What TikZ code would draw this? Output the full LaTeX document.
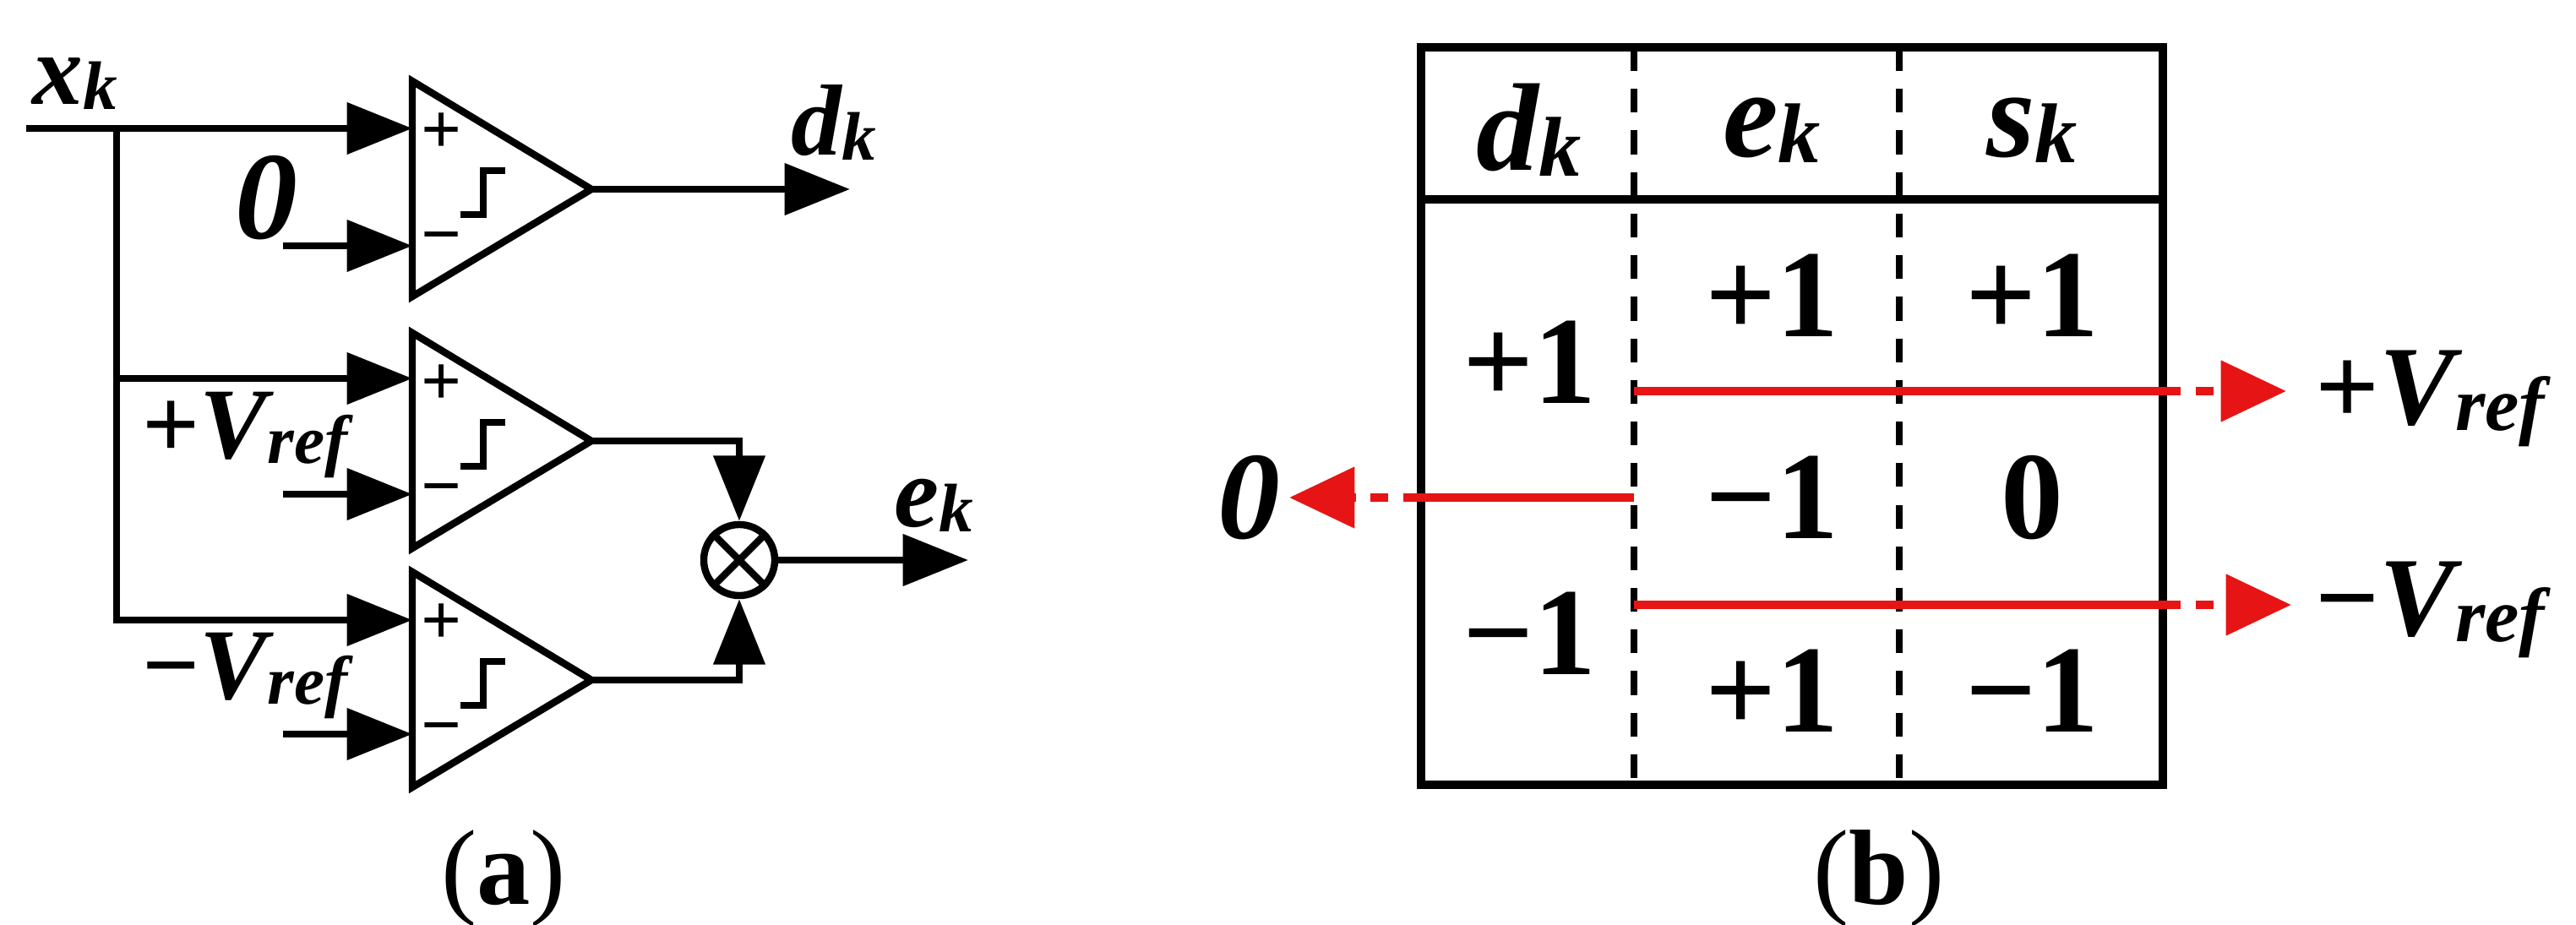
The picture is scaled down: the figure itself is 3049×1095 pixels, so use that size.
\documentclass[tikz,border=0pt]{standalone}
\usepackage{fontspec}
\setmainfont{Liberation Serif}
\usetikzlibrary{arrows.meta}
\newcommand\vv[2]{{\itshape\bfseries #1\raisebox{-0.05em}{\scalebox{0.68}{#2}}}}
\begin{document}
\begin{tikzpicture}[x=0.01cm,y=-0.01cm,
  wire/.style={line width=2.4pt,line cap=rect},
  arr/.style={wire,-{Triangle[length=22pt,width=17pt]}},
  red/.style={line width=3pt,draw={rgb,255:red,230;green,20;blue,20}},
  redarr/.style={line width=3pt,draw={rgb,255:red,230;green,20;blue,20},dash pattern=on 6pt off 5pt,-{Triangle[length=22pt,width=20pt,fill={rgb,255:red,230;green,20;blue,20}]}},
  lbl/.style={font=\fontsize{34}{40}\selectfont\bfseries},
  tbl/.style={font=\fontsize{42}{50}\selectfont\bfseries},
  sgn/.style={font=\fontsize{24}{28}\selectfont\bfseries}]
\useasboundingbox (0,0) rectangle (3049,1095);
% ---------- (a) ----------
\foreach \n/\t in {c1/96,c2/394,c3/677}{
  \pgfmathsetmacro\b{\t+255}\pgfmathsetmacro\m{\t+128}
  \draw[wire,line join=miter] (488,\t) -- (700,\m) coordinate (\n o) -- (488,\b) -- cycle;
  \node[sgn] at (523,\t+62) {+};
  \node[sgn] at (523,\t+194) {−};
  \draw[line width=2.4pt] (545,\m+30) -- (572,\m+30) -- (572,\m-22) -- (598,\m-22);
}
\coordinate (xin) at (35,152);
\coordinate (bus) at (138,152);
\coordinate (bus2) at (138,448);
\coordinate (bus3) at (138,734);
\node[lbl] (xk) at (89,99) {\vv{x}{k}};
\draw[arr] (xin) -- (488,152);
\draw[wire] (bus) -- (bus3);
\draw[arr] (bus2) -- (488,448);
\draw[arr] (bus3) -- (488,734);
\coordinate (m1) at (339,291);
\coordinate (m2) at (339,585);
\coordinate (m3) at (339,869);
\draw[arr] (m1) -- (488,291);
\draw[arr] (m2) -- (488,585);
\draw[arr] (m3) -- (488,869);
\node[font=\fontsize{42}{48}\selectfont\bfseries] (zero) at (315,234) {\itshape 0};
\node[lbl] (pv) at (290,515) {+\vv{V}{ref}};
\node[lbl] (mv) at (290,800) {−\vv{V}{ref}};
\coordinate (dend) at (1006,224);
\draw[arr] (c1o) -- (dend);
\node[lbl] (dk) at (987,145) {\vv{d}{k}};
\node[draw,circle,line width=2.4pt,minimum size=0.84cm,inner sep=0] (mul) at (875,663) {};
\draw[line width=2.4pt] (mul.north west) -- (mul.south east) (mul.north east) -- (mul.south west);
\draw[arr] (c2o) -| (mul.north);
\draw[arr] (c3o) -| (mul.south);
\coordinate (eend) at (1146,663);
\draw[arr] (mul.east) -- (eend);
\node[lbl] (ek) at (1105,598) {\vv{e}{k}};
\node[font=\fontsize{36}{40}\selectfont] (a) at (596,1040) {(\textbf{a})};
% ---------- (b) ----------
\draw[line width=3pt] (1682,56) rectangle (2560,929);
\draw[line width=3pt] (1682,236) -- (2560,236);
\draw[line width=2.4pt,dash pattern=on 8pt off 6pt] (1934,56) -- (1934,929);
\draw[line width=2.4pt,dash pattern=on 8pt off 6pt] (2248,56) -- (2248,929);
\node[tbl] (hd) at (1810,154) {\vv{d}{k}};
\node[tbl] (he) at (2097,154) {\vv{e}{k}};
\node[tbl] (hs) at (2405,154) {\vv{s}{k}};
\node[tbl] (r1e) at (2097,350) {+1};
\node[tbl] (r1s) at (2405,350) {+1};
\node[tbl] (d1) at (1810,429) {+1};
\node[tbl] (r2e) at (2097,589) {−1};
\node[tbl] (r2s) at (2405,589) {0};
\node[tbl] (d2) at (1810,750) {−1};
\node[tbl] (r3e) at (2097,818) {+1};
\node[tbl] (r3s) at (2405,818) {−1};
\coordinate (l1a) at (1934,463); \coordinate (l1b) at (2560,463); \coordinate (l1c) at (2706,463);
\coordinate (l2a) at (1934,716); \coordinate (l2b) at (2560,716); \coordinate (l2c) at (2712,716);
\coordinate (l0a) at (1934,589); \coordinate (l0b) at (1682,589); \coordinate (l0c) at (1526,589);
\draw[red] (l1a) -- (l1b); \draw[redarr] (l1b) -- (l1c);
\draw[red] (l2a) -- (l2b); \draw[redarr] (l2b) -- (l2c);
\draw[red] (l0a) -- (l0b); \draw[redarr] (l0b) -- (l0c);
\node[font=\fontsize{38}{44}\selectfont\bfseries,anchor=west,inner sep=0] (pvr) at (2740,472) {+\vv{V}{ref}};
\node[font=\fontsize{38}{44}\selectfont\bfseries,anchor=west,inner sep=0] (mvr) at (2740,722) {−\vv{V}{ref}};
\node[tbl] (z) at (1478,589) {\itshape 0};
\node[font=\fontsize{36}{40}\selectfont] (b) at (2224,1040) {(\textbf{b})};
\end{tikzpicture}
\end{document}
